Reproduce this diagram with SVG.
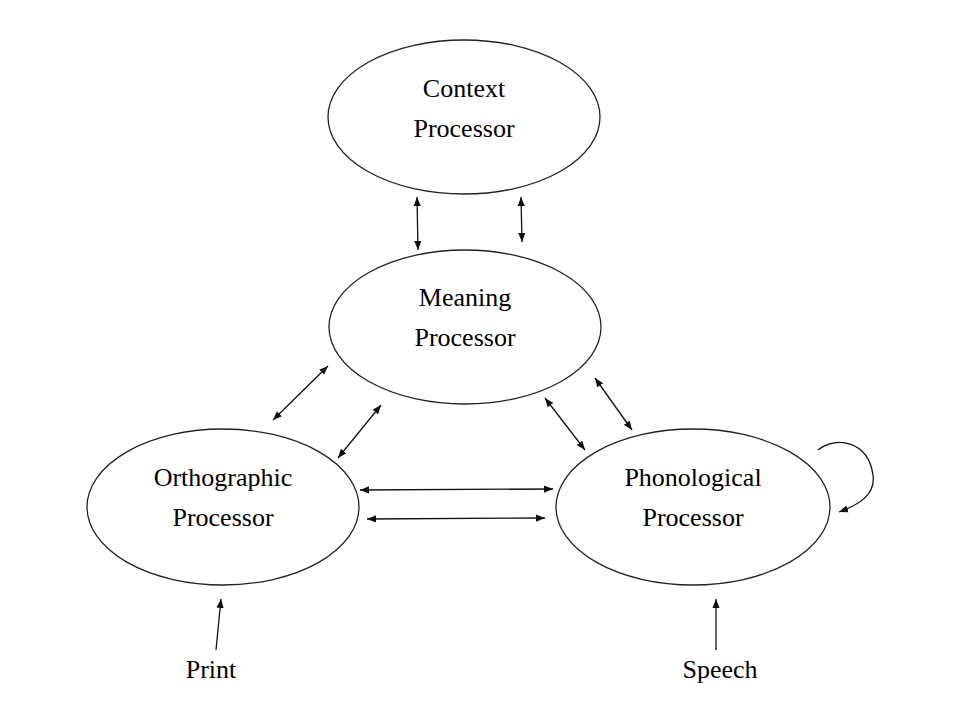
<svg xmlns="http://www.w3.org/2000/svg" width="960" height="720" viewBox="0 0 960 720">
<style>
.n{fill:#fff;stroke:#222;stroke-width:1.3}
.t{font-family:"Liberation Serif",serif;font-size:26px;fill:#000;text-anchor:middle}
.c{stroke:#111;stroke-width:1.3;fill:none}
</style>
<defs>
<marker id="a" viewBox="0 0 10 10" refX="10" refY="5" markerWidth="9" markerHeight="9" markerUnits="userSpaceOnUse" orient="auto-start-reverse"><path d="M0,1 L10,5 L0,9z" fill="#111"/></marker>
</defs>
<rect width="960" height="720" fill="#fff"/>
<g id="context"><ellipse class="n" cx="464" cy="117" rx="136" ry="77"/><text class="t" x="464" y="97">Context</text><text class="t" x="464" y="137">Processor</text></g>
<g id="meaning"><ellipse class="n" cx="465" cy="327" rx="136" ry="77"/><text class="t" x="465" y="306">Meaning</text><text class="t" x="465" y="346">Processor</text></g>
<g id="ortho"><ellipse class="n" cx="223" cy="507" rx="136" ry="78"/><text class="t" x="223" y="486">Orthographic</text><text class="t" x="223" y="526">Processor</text></g>
<g id="phono"><ellipse class="n" cx="693" cy="507" rx="137" ry="78"/><text class="t" x="693" y="486">Phonological</text><text class="t" x="693" y="526">Processor</text></g>
<g id="print"><text class="t" x="211" y="678">Print</text></g>
<g id="speech"><text class="t" x="720" y="678">Speech</text></g>
<g id="connectors">
<line class="c" x1="417" y1="197" x2="418" y2="250" marker-start="url(#a)" marker-end="url(#a)"/>
<line class="c" x1="521" y1="197" x2="522" y2="242" marker-start="url(#a)" marker-end="url(#a)"/>
<line class="c" x1="273" y1="420" x2="328" y2="366" marker-start="url(#a)" marker-end="url(#a)"/>
<line class="c" x1="338" y1="458" x2="381" y2="405" marker-start="url(#a)" marker-end="url(#a)"/>
<line class="c" x1="545" y1="398" x2="585" y2="450" marker-start="url(#a)" marker-end="url(#a)"/>
<line class="c" x1="595" y1="378" x2="632" y2="430" marker-start="url(#a)" marker-end="url(#a)"/>
<line class="c" x1="360" y1="490" x2="553" y2="489" marker-start="url(#a)" marker-end="url(#a)"/>
<line class="c" x1="367" y1="519" x2="545" y2="518" marker-start="url(#a)" marker-end="url(#a)"/>
<line class="c" x1="216" y1="650" x2="221" y2="599" marker-end="url(#a)"/>
<line class="c" x1="716" y1="650" x2="716" y2="599" marker-end="url(#a)"/>
<path class="c" d="M818,450 C835,436 868,440 873,475 C876,495 858,505 839,512" marker-end="url(#a)"/>
</g>
</svg>
